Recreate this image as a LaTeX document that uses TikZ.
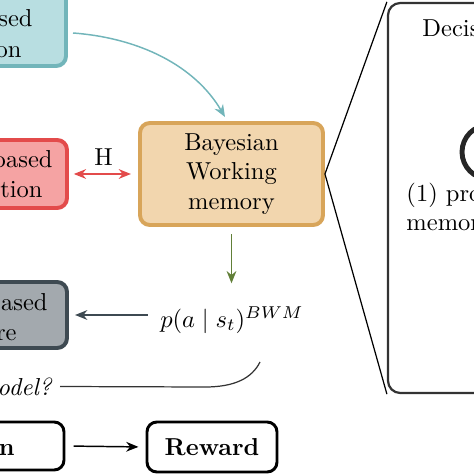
\documentclass[tikz,border=0pt]{standalone}
\usetikzlibrary{arrows.meta}
\definecolor{cyanfill}{HTML}{B8DEE1}
\definecolor{cyandraw}{HTML}{72B5BA}
\definecolor{redfill}{HTML}{F5A3A3}
\definecolor{reddraw}{HTML}{E34B4B}
\definecolor{bwmfill}{HTML}{F2D6AE}
\definecolor{bwmdraw}{HTML}{D8A55A}
\definecolor{grayfill}{HTML}{A3A9AE}
\definecolor{graydraw}{HTML}{3E4A52}
\definecolor{greenarrow}{HTML}{617F38}
\begin{document}
\begin{tikzpicture}[x=0.408pt,y=-0.408pt,
  colbox/.style={draw, line width=1.6pt, rounded corners=4pt, inner sep=0pt},
  blkbox/.style={draw=black, line width=1.2pt, rounded corners=4pt, inner sep=0pt},
  frag/.style={inner sep=0pt, anchor=base east},
  fragw/.style={inner sep=0pt, anchor=base west},
  arr/.style={line width=0.6pt, -{Stealth[length=5pt,width=4pt]}}]
\useasboundingbox (0,0) rectangle (474,474);
\clip (0,0) rectangle (474,474);
% left boxes
\node[colbox, fill=cyanfill, draw=cyandraw, minimum width=166*0.408pt, minimum height=116*0.408pt] (cyan) at (-17,8) {};
\node[frag] (cyan1) at (33,27) {sed};
\node[frag] (cyan2) at (22,58) {on};
\node[colbox, fill=redfill, draw=reddraw, minimum width=167*0.408pt, minimum height=68*0.408pt] (red) at (-16.5,174) {};
\node[frag] (red1) at (53,168) {based};
\node[frag] (red2) at (43,198) {tion};
\node[colbox, fill=grayfill, draw=graydraw, minimum width=167*0.408pt, minimum height=66*0.408pt] (gray) at (-16.5,315) {};
\node[frag] (gray1) at (48,310) {ased};
\node[frag] (gray2) at (17,340) {re};
% Bayesian working memory
\node[colbox, fill=bwmfill, draw=bwmdraw, minimum width=183*0.408pt, minimum height=102*0.408pt, align=center] (bwm) at (231.5,174) {Bayesian\\Working\\memory};
\node (pnode) at (232,320) {$p(a\mid s_t)^{BWM}$};
% arrows
\coordinate (cs) at (73,33);
\draw[arr, draw=cyandraw, -{Stealth[length=5pt,width=4pt,fill=cyandraw]}] (cs) .. controls (140,38) and (195,66) .. (225,117);
\draw[line width=0.6pt, draw=reddraw, {Stealth[length=5pt,width=4pt]}-{Stealth[length=5pt,width=4pt]}, shorten <=2pt, shorten >=2.9pt] (red.east) -- node[above] (hlab) {H} (bwm.west);
\draw[arr, draw=greenarrow, shorten <=3pt, shorten >=6pt] (bwm.south) -- (bwm.south |- pnode.north);
\draw[arr, draw=graydraw, shorten <=1.5pt, shorten >=2.5pt] (pnode.west |- gray.east) -- (gray.east);
% which model line
\node[inner sep=3.33pt, anchor=east] (odel) at (60,386.5) {\itshape odel?};
\draw[line width=0.5pt, draw=black!80] (odel.east) -- (205,387) .. controls (235,387) and (252,378) .. (260,362);
% bottom row
\node[blkbox, minimum width=164*0.408pt, minimum height=48*0.408pt] (nbox) at (-18,446) {};
\node[frag] (ntext) at (15,455) {\bfseries n};
\node[blkbox, minimum width=130*0.408pt, minimum height=50*0.408pt] (reward) at (212,447) {\bfseries Reward};
\draw[arr, draw=black, shorten <=3.3pt, shorten >=2.9pt] (nbox.east) -- (reward.west);
% decision box
\node[draw=black!80, line width=0.9pt, rounded corners=5pt, minimum width=140*0.408pt, minimum height=390*0.408pt, inner sep=0pt] (big) at (458,198) {};
\draw[line width=0.5pt] (bwm.east) -- (big.north west);
\draw[line width=0.5pt] (bwm.east) -- (big.south west);
\node[fragw] (dec) at (422,37) {Decis};
\node[fragw] (d1) at (406,202) {(1) pro};
\node[fragw] (d2) at (406,231) {memor};
\draw[line width=2pt, draw=black!85] (489,152) circle[radius=27];
\end{tikzpicture}
\end{document}
